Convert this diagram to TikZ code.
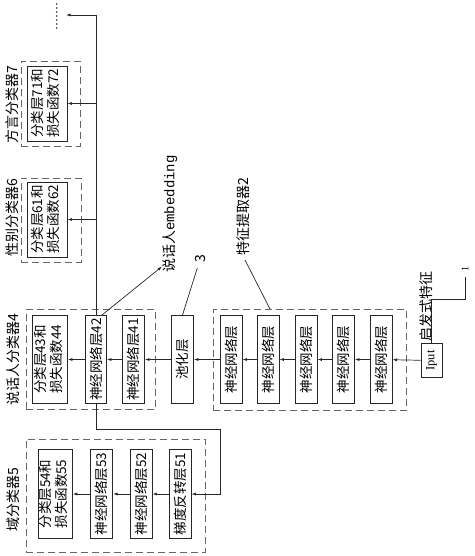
\documentclass[tikz,border=0pt]{standalone}
\usepackage{fontspec}
\setmainfont{Noto Sans CJK SC}
\newfontfamily\monol{Liberation Mono}
\newfontfamily\serifl{Liberation Serif}
\usetikzlibrary{arrows.meta}
\newcommand\myrot[1]{\rotatebox{90}{#1}}
\newcommand\twol[2]{\myrot{\begin{tabular}{@{}c@{}}#1\\#2\end{tabular}}}
\begin{document}
\begin{tikzpicture}[x=1pt,y=-1pt,
 box/.style={draw=black!85, line width=0.9pt, inner sep=0pt, font=\fontsize{13.5}{15.5}\selectfont},
 dbox/.style={draw=black!60, line width=0.9pt, dash pattern=on 7pt off 4pt, inner sep=0pt},
 lab/.style={inner sep=0pt, font=\fontsize{14}{16}\selectfont},
 arr/.style={draw=black!85, line width=0.7pt, -{Latex[length=4.5pt,width=3pt]}},
 ln/.style={draw=black!85, line width=0.7pt}]
\useasboundingbox (0,0) rectangle (474,556);
% dashed groups
\node[dbox, minimum width=59pt, minimum height=85pt] (d7) at (50.5,103.5) {};
\node[dbox, minimum width=60pt, minimum height=84pt] (d6) at (51,220) {};
\node[dbox, minimum width=129pt, minimum height=100.5pt] (d4) at (90.5,359.25) {};
\node[dbox, minimum width=179pt, minimum height=113pt] (d5) at (115.5,495.5) {};
\node[dbox, minimum width=193pt, minimum height=101.5pt] (d2) at (309.5,359.75) {};
% group labels
\node[lab] (l7) at (12,105) {\myrot{方言分类器7}};
\node[lab] (l6) at (12,218) {\myrot{性别分类器6}};
\node[lab] (l4) at (13,360) {\myrot{说话人分类器4}};
\node[lab] (l5) at (13,500) {\myrot{域分类器5}};
\node[lab] (lemb) at (170,214) {\myrot{说话人{\monol embedding}}};
\node[lab] (l2) at (243,217) {\myrot{特征提取器2}};
\node[lab] (l3) at (201,259) {\myrot{3}};
\node[lab] (lin) at (426,306) {\myrot{启发式特征}};
\node[lab, font=\fontsize{10}{11}\selectfont\serifl] (l1) at (465,269) {\myrot{1}};
% inner boxes
\node[box, minimum width=40pt, minimum height=75pt] (c7) at (47,103.5) {\twol{分类层71和}{损失函数72}};
\node[box, minimum width=40pt, minimum height=75pt] (c6) at (47,219.5) {\twol{分类层61和}{损失函数62}};
\node[box, minimum width=35pt, minimum height=88pt] (n43) at (50,359.5) {\twol{分类层43和}{损失函数44}};
\node[box, minimum width=21pt, minimum height=88pt] (n42) at (96,359.5) {\myrot{神经网络层42}};
\node[box, minimum width=22pt, minimum height=88pt] (n41) at (133.5,359.5) {\myrot{神经网络层41}};
\node[box, minimum width=22pt, minimum height=88pt] (pool) at (182.5,359.5) {\myrot{池化层}};
\node[box, minimum width=22pt, minimum height=88pt] (f1) at (231,359.5) {\myrot{神经网络层}};
\node[box, minimum width=22pt, minimum height=88pt] (f2) at (268,359.5) {\myrot{神经网络层}};
\node[box, minimum width=22pt, minimum height=88pt] (f3) at (306,359.5) {\myrot{神经网络层}};
\node[box, minimum width=22pt, minimum height=88pt] (f4) at (343.5,359.5) {\myrot{神经网络层}};
\node[box, minimum width=22pt, minimum height=88pt] (f5) at (381,359.5) {\myrot{神经网络层}};
\node[box, minimum width=21pt, minimum height=34.5pt, font=\fontsize{12.5}{14}\selectfont\serifl] (iput) at (431.5,360.5) {\myrot{Iput}};
\node[box, minimum width=34pt, minimum height=89pt] (n55) at (55.3,494) {\twol{分类层54和}{损失函数55}};
\node[box, minimum width=22pt, minimum height=89pt] (n53) at (101.7,494) {\myrot{神经网络层53}};
\node[box, minimum width=22pt, minimum height=89pt] (n52) at (141,494) {\myrot{神经网络层52}};
\node[box, minimum width=22pt, minimum height=89pt] (n51) at (180,494) {\myrot{梯度反转层51}};
% coordinates
\coordinate (topend) at (66,15);
\coordinate (bend) at (220,429.5);
\coordinate (embtip) at (162,266.5);
\coordinate (t3) at (197.3,268);
\coordinate (t2a) at (270,309);
\coordinate (t2b) at (245,260);
\coordinate (t1a) at (465,299);
\coordinate (t1b) at (465,277);
% dots
\foreach \yy in {4,8,...,28} \fill[black!85] (56.7,\yy) circle (0.9pt);
% connectors
\draw[arr] (iput) -- (f5);
\draw[arr] (f5) -- (f4);
\draw[arr] (f4) -- (f3);
\draw[arr] (f3) -- (f2);
\draw[arr] (f2) -- (f1);
\draw[arr] (f1) -- (pool);
\draw[arr] (pool) -- (n41);
\draw[arr] (n41) -- (n42);
\draw[arr] (n42) -- (n43);
\draw[arr] (n53) -- (n55);
\draw[arr] (n52) -- (n53);
\draw[arr] (n51) -- (n52);
\draw[arr] (n42.south) |- (bend) |- (n51.east);
\draw[arr] (n42.north) |- (topend);
\draw[arr] (c6.east -| n42.north) -- (c6.east);
\draw[arr] (c7.east -| n42.north) -- (c7.east);
\draw[arr] ([xshift=-5pt]n42.north east) -- (embtip);
\draw[ln] (pool.north) -- (t3);
\draw[ln] (t2a) -- (t2b);
\draw[ln] (iput.north) |- (t1a) -- (t1b);
\end{tikzpicture}
\end{document}
